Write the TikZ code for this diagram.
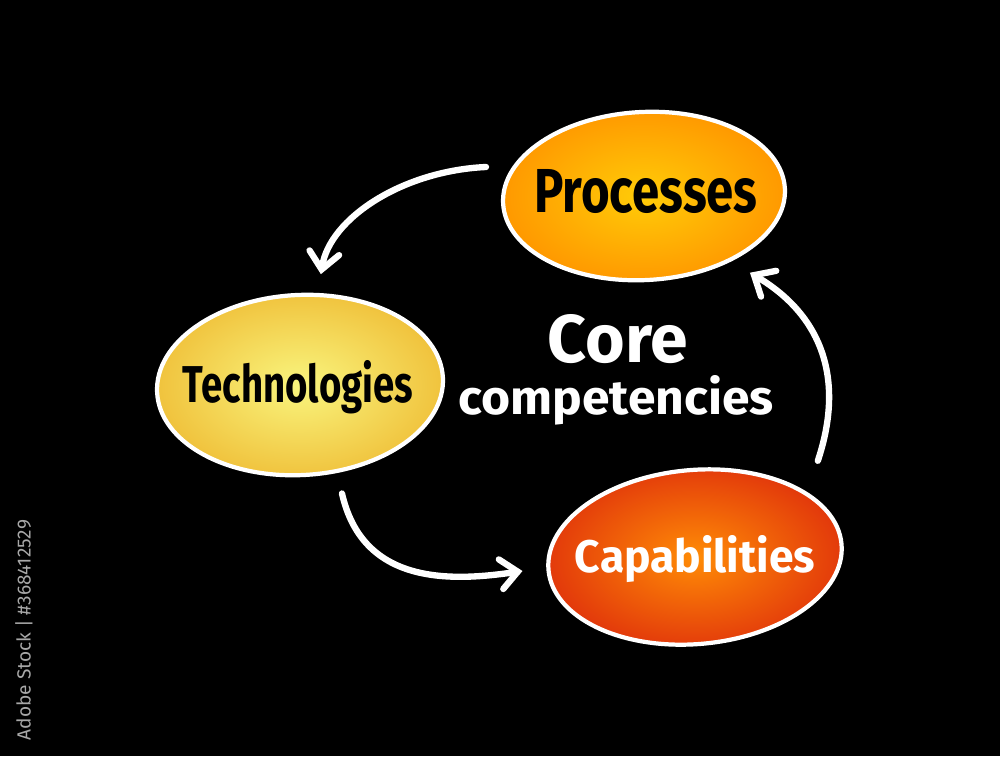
\documentclass[tikz,border=0pt]{standalone}
\usepackage{fontspec}
\setmainfont{Fira Sans}
\usetikzlibrary{shapes.geometric,arrows.meta}
\definecolor{procin}{HTML}{FFCC08}
\definecolor{procout}{HTML}{FF9800}
\definecolor{techin}{HTML}{F9F57E}
\definecolor{techout}{HTML}{F0C23C}
\definecolor{capin}{HTML}{FF8C06}
\definecolor{capout}{HTML}{E2380B}
\definecolor{stampgray}{HTML}{A8A8A8}
\begin{document}
\begin{tikzpicture}[x=0.01cm,y=-0.01cm,
  bubble/.style={ellipse, draw=white, line width=1.2pt, inner sep=0pt},
  lbl/.style={inner sep=0pt, anchor=base, font=\bfseries},
  flow/.style={draw=white, line width=1.8pt, line cap=round,
    -{Straight Barb[length=4.8pt,width=8.5pt,line cap=round]}}]
\fill[black] (0,0) rectangle (1000,756);
\useasboundingbox (0,0) rectangle (1000,756);
% bubbles
\node[bubble, minimum width=2.82cm, minimum height=1.68cm, rotate=3,
  inner color=procin, outer color=procout] (proc) at (644,196) {};
\node[bubble, minimum width=2.86cm, minimum height=1.80cm, rotate=3,
  inner color=techin, outer color=techout] (tech) at (300,385) {};
\node[bubble, minimum width=2.94cm, minimum height=1.74cm, rotate=5,
  inner color=capin, outer color=capout] (cap) at (695,557) {};
% labels
\node[lbl, text=black] (proct) at (646,212) {\resizebox{2.23cm}{0.43cm}{Processes}};
\node[lbl, text=black] (techt) at (298,402) {\resizebox{2.30cm}{0.42cm}{Technologies}};
\node[lbl, text=white] (capt) at (695,572) {\resizebox{2.40cm}{0.37cm}{Capabilities}};
\node[lbl, text=white] (coret) at (618,362) {\resizebox{1.40cm}{0.48cm}{Core}};
\node[lbl, text=white] (compt) at (616,414) {\resizebox{3.15cm}{0.39cm}{competencies}};
% stamp
\node[rotate=90, text=stampgray, inner sep=0pt] (stamp) at (24,630)
  {\resizebox{2.2cm}{!}{Adobe Stock | \#368412529}};
% arrows
\draw[flow, shorten <=0.27cm, shorten >=0.19cm]
  (proc.164) .. controls +(-110,5) and +(12,-75) .. (tech.76);
\draw[flow, shorten <=0.21cm, shorten >=0.24cm]
  (tech.-70) .. controls +(25,110) and +(-100,15) .. (cap.179);
\draw[flow, shorten <=0.33cm, shorten >=0.22cm]
  (cap.25) .. controls +(40,-120) and +(85,50) .. (proc.-40);
\end{tikzpicture}
\end{document}
